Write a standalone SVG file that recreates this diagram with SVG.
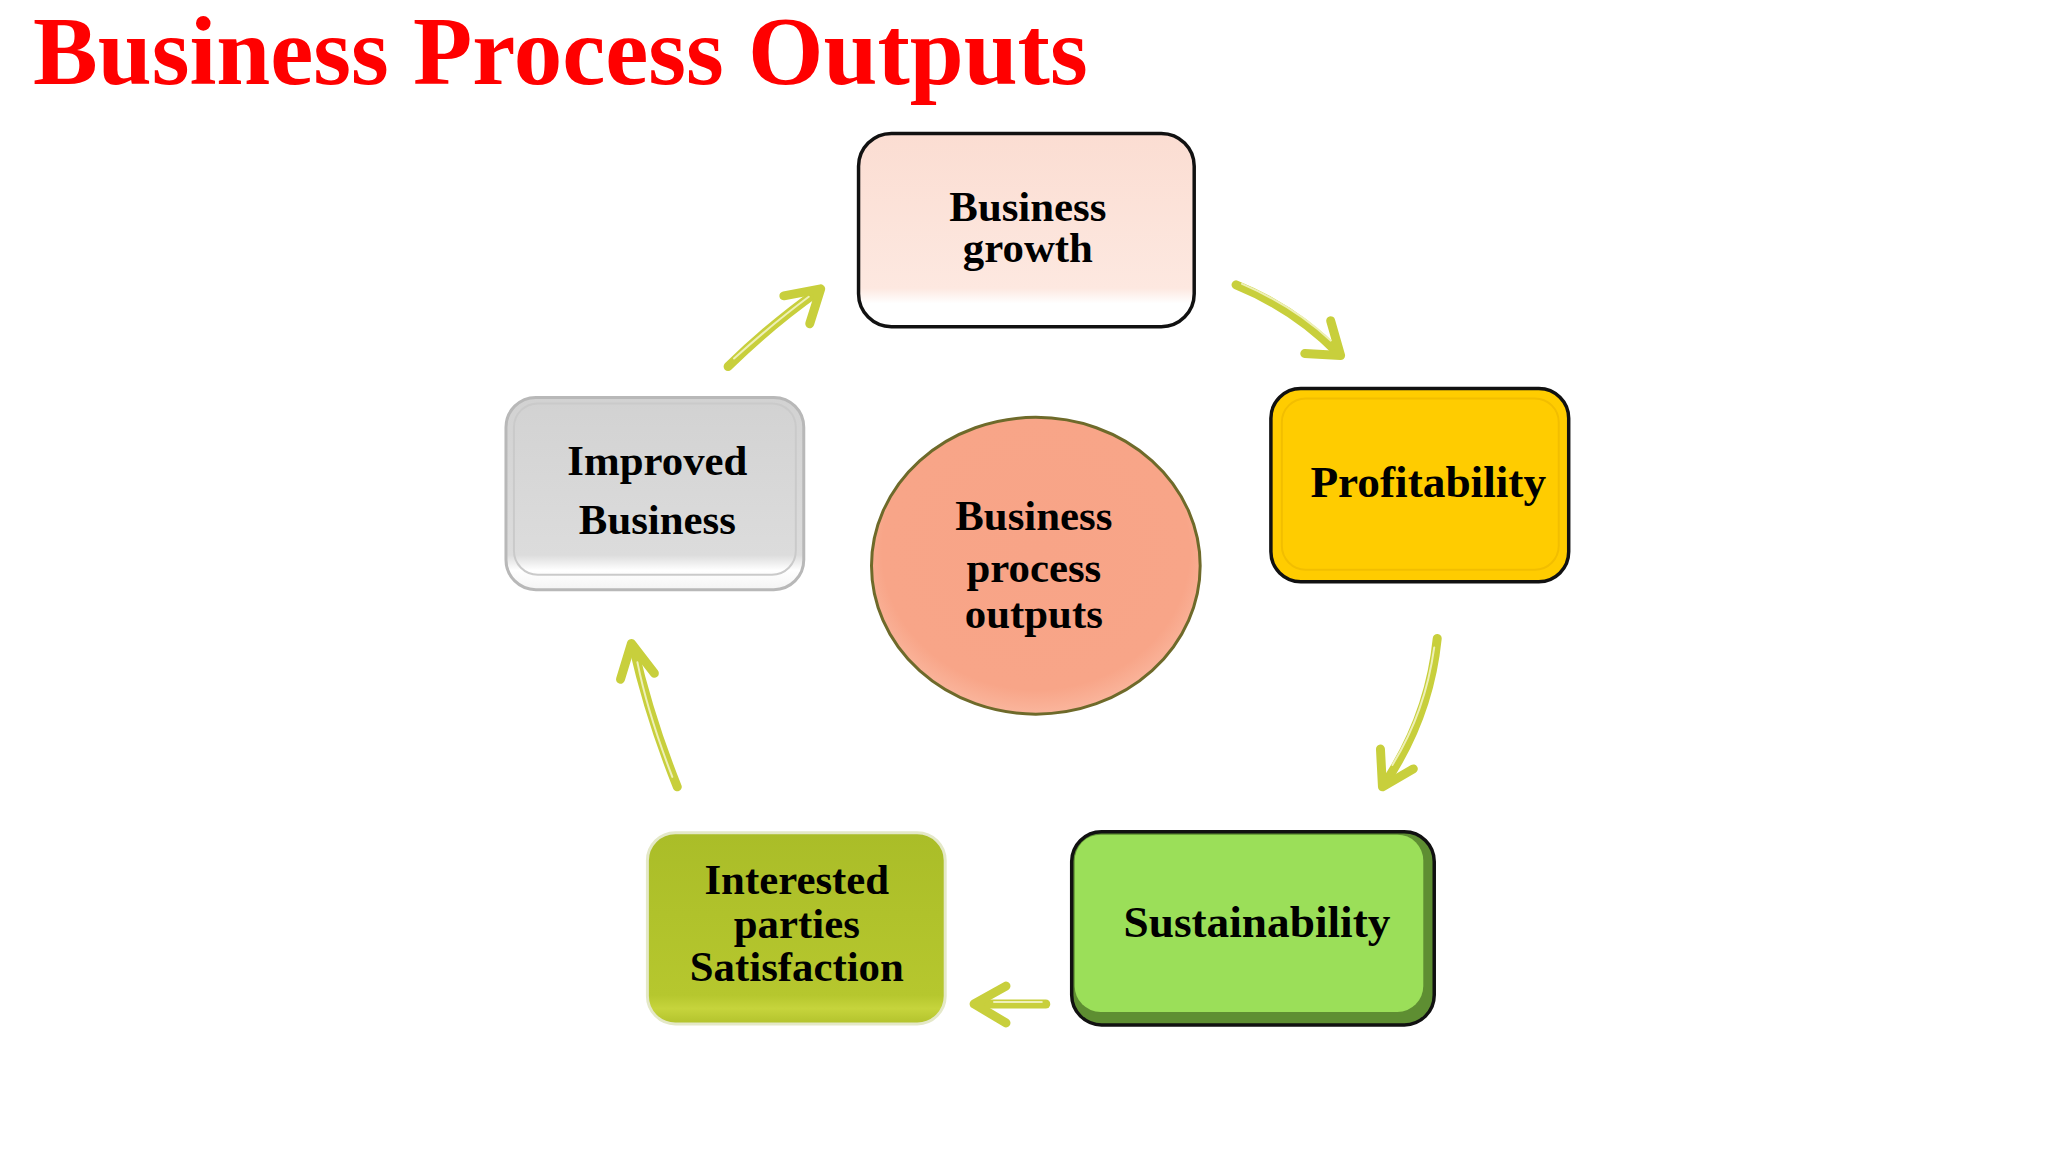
<svg xmlns="http://www.w3.org/2000/svg" width="2048" height="1152" viewBox="0 0 2048 1152">
<defs>
<style>
.lbl{font-family:"Liberation Serif","Times New Roman",serif;font-weight:bold;font-size:43px;fill:#000;text-anchor:middle}
.big{font-size:45.5px}
.title{font-family:"Liberation Serif","Times New Roman",serif;font-weight:bold;font-size:97px;fill:#FF0000}
.arr{fill:none;stroke:#C8CF3C;stroke-width:9;stroke-linecap:round;stroke-linejoin:round}
.arrhi{fill:none;stroke:#EEF0B8;stroke-width:2;stroke-linecap:round}
</style>
<linearGradient id="gGrowth" x1="0" y1="0" x2="0" y2="1">
<stop offset="0" stop-color="#FBDDD2"/><stop offset="0.8" stop-color="#FDE8E0"/><stop offset="0.88" stop-color="#FFFFFF"/><stop offset="1" stop-color="#FFFFFF"/>
</linearGradient>
<linearGradient id="gGrey" x1="0" y1="0" x2="0" y2="1">
<stop offset="0" stop-color="#D2D2D2"/><stop offset="0.82" stop-color="#DCDCDC"/><stop offset="0.9" stop-color="#FFFFFF"/><stop offset="1" stop-color="#F4F4F4"/>
</linearGradient>
<linearGradient id="gOlive" x1="0" y1="0" x2="0" y2="1">
<stop offset="0" stop-color="#AABD28"/><stop offset="0.85" stop-color="#B6C72E"/><stop offset="0.92" stop-color="#C6D43C"/><stop offset="1" stop-color="#B2C22C"/>
</linearGradient>
<radialGradient id="gCircle" cx="0.5" cy="0.45" r="0.6">
<stop offset="0" stop-color="#F8A487"/><stop offset="0.78" stop-color="#F8A588"/><stop offset="1" stop-color="#FBC0AA"/>
</radialGradient>
</defs>
<rect width="2048" height="1152" fill="#FFFFFF"/>
<text class="title" x="33" y="84">Business Process Outputs</text>

<g transform="scale(0.996)">
<g id="connectors">
<path class="arr" d="M731,368 Q775,325 822,292"/>
<polyline class="arr" points="787,297 824,290 813,325"/>
<path class="arrhi" d="M737,360 Q777,324 812,298"/>

<path class="arr" d="M1241,286 Q1300,310 1344,355"/>
<polyline class="arr" points="1310,355 1346,357 1336,322"/>
<path class="arrhi" d="M1247,285 Q1300,308 1336,342"/>

<path class="arr" d="M1443,641 Q1435,720 1390,787"/>
<polyline class="arr" points="1386,752 1388,790 1419,772"/>
<path class="arrhi" d="M1440,650 Q1431,715 1398,768"/>

<path class="arr" d="M1050,1008 L982,1008"/>
<polyline class="arr" points="1010,990 978,1008 1010,1027"/>
<path class="arrhi" d="M1046,1006 L998,1006"/>

<path class="arr" d="M680,790 Q652,720 636,650"/>
<polyline class="arr" points="623,682 634,646 657,676"/>
<path class="arrhi" d="M675,780 Q650,715 640,665"/>
</g>

<g id="node-growth">
<rect x="862" y="134" width="337" height="194" rx="33" fill="url(#gGrowth)" stroke="#111" stroke-width="3.5"/>
<text class="lbl" x="1032" y="222">Business</text>
<text class="lbl" x="1032" y="263">growth</text>
</g>

<g id="node-profit">
<rect x="1276" y="390" width="299" height="194" rx="30" fill="#FFCC00" stroke="#111" stroke-width="3.5"/>
<rect x="1287" y="400" width="278" height="172" rx="24" fill="none" stroke="#F2BE00" stroke-width="2"/>
<text class="lbl big" x="1434" y="499">Profitability</text>
</g>

<g id="node-sustain">
<rect x="1076" y="835" width="364" height="194" rx="30" fill="#5E8E32" stroke="#111" stroke-width="3.5"/>
<rect x="1079" y="838" width="350" height="178" rx="26" fill="#9BDF59"/>
<text class="lbl big" x="1262" y="941">Sustainability</text>
</g>

<g id="node-interested">
<rect x="650" y="836" width="299" height="192" rx="28" fill="url(#gOlive)" stroke="#E4E8C8" stroke-width="3"/>
<text class="lbl" x="800" y="898">Interested</text>
<text class="lbl" x="800" y="942">parties</text>
<text class="lbl" x="800" y="985">Satisfaction</text>
</g>

<g id="node-improved">
<rect x="508" y="399" width="299" height="193" rx="30" fill="url(#gGrey)" stroke="#B8B8B8" stroke-width="3"/>
<rect x="516" y="405" width="283" height="172" rx="24" fill="none" stroke="#CACACA" stroke-width="2"/>
<text class="lbl" x="660" y="477">Improved</text>
<text class="lbl" x="660" y="536">Business</text>
</g>

<g id="node-center">
<ellipse cx="1040" cy="568" rx="165" ry="149" fill="url(#gCircle)" stroke="#6E6A2A" stroke-width="3"/>
<text class="lbl" x="1038" y="532">Business</text>
<text class="lbl" x="1038" y="584">process</text>
<text class="lbl" x="1038" y="631">outputs</text>
</g>
</g>
</svg>
